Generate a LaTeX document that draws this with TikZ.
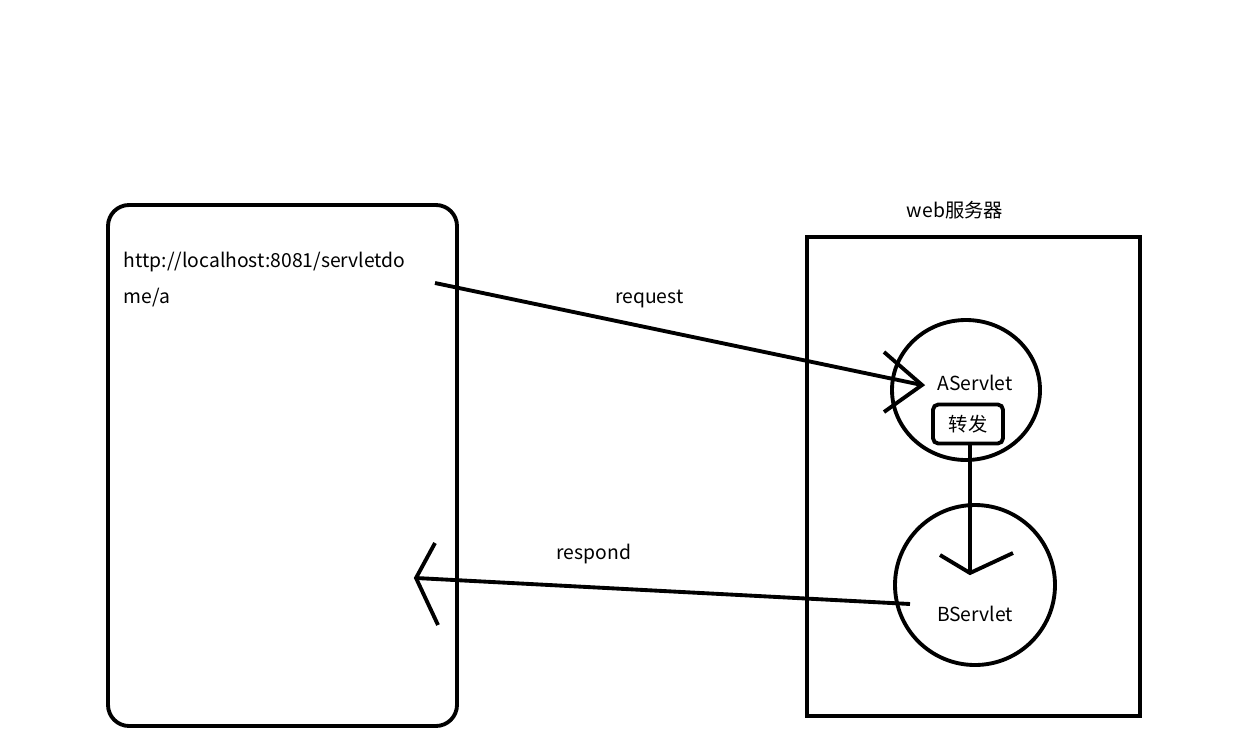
\documentclass[tikz,border=0pt]{standalone}
\usepackage{fontspec}
\setmainfont{Noto Sans CJK SC}
\usetikzlibrary{positioning,shapes.geometric}
\begin{document}
\begin{tikzpicture}[x=0.02cm,y=-0.02cm,line width=2.2pt,
    label text/.style={font=\fontsize{11}{13}\selectfont, inner sep=0pt},
    servlet/.style={draw, ellipse, minimum width=148*0.02cm, minimum height=140*0.02cm, inner sep=0pt}]
    \useasboundingbox (0,0) rectangle (1256,747);

    % browser and server frames
    \draw[rounded corners=12pt] (108,205) rectangle (457,726);
    \draw (807,237) rectangle (1140,716);
    \node[label text] (server) at (955,210) {web服务器};
    \node[label text, anchor=west] (url) at (122,262) {http://localhost:8081/servletdo};
    \node[label text, anchor=west] (url2) at (122,298) {me/a};

    % servlets
    \node[servlet] (aservlet) at (966,390) {};
    \node[servlet, minimum width=160*0.02cm, minimum height=160*0.02cm] (bservlet) at (975,585) {};
    \node[label text] (aname) at (975,383) {AServlet};
    \node[label text] (bname) at (975,614) {BServlet};
    \node[label text, draw, rounded corners=3pt, minimum width=70*0.02cm, minimum height=39*0.02cm]
        (forward) at (968,424) {转发};

    % request
    \coordinate (reqstart) at (435,283);
    \coordinate (reqend) at (922,385);
    \draw (reqstart) -- (reqend) node[label text, pos=0.44, above=10pt] {request};
    \draw (884,352) -- (reqend) -- (884,412);

    % forward to BServlet
    \coordinate (fwdend) at (970,573);
    \draw (forward.south -| fwdend) -- (fwdend);
    \draw (940,555) -- (fwdend) -- (1013,553);

    % respond
    \coordinate (respstart) at (910,604);
    \coordinate (respend) at (416,578);
    \draw (respstart) -- (respend) node[label text, pos=0.64, above=12pt] {respond};
    \draw (435,543) -- (respend) -- (438,625);
\end{tikzpicture}
\end{document}
